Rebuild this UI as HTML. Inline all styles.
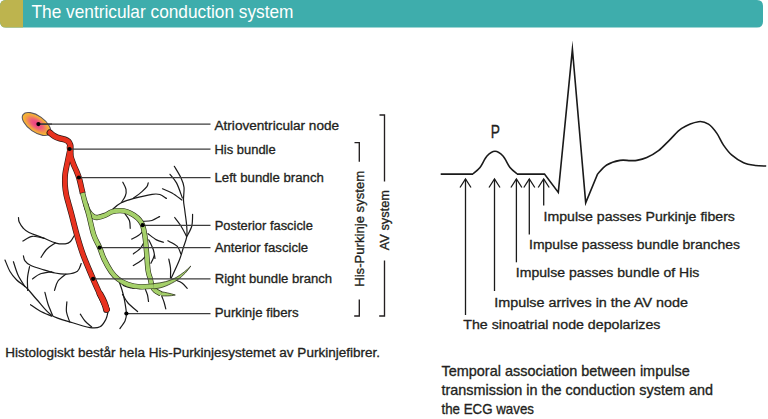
<!DOCTYPE html>
<html><head><meta charset="utf-8">
<style>
html,body{margin:0;padding:0;background:#fff;width:768px;height:419px;overflow:hidden}
svg{display:block}
text{font-family:"Liberation Sans",sans-serif;fill:#231f20}
.t{stroke:#231f20;stroke-width:0.33}
</style></head>
<body>
<svg width="768" height="419" viewBox="0 0 768 419">
<defs>
<radialGradient id="avg" cx="0.5" cy="0.5" r="0.5">
<stop offset="0" stop-color="#ec3a88"/>
<stop offset="0.4" stop-color="#ef5d7a"/>
<stop offset="0.78" stop-color="#f4a440"/>
<stop offset="1" stop-color="#f8c22c"/>
</radialGradient>
</defs>
<!-- header -->
<path d="M6,0 H757 Q763,0 763,6 V21.5 Q763,27.5 757,27.5 H6 Q0,27.5 0,21.5 V6 Q0,0 6,0 Z" fill="#3eadac"/>
<path d="M6,0 H23 V27.5 H6 Q0,27.5 0,21.5 V6 Q0,0 6,0 Z" fill="#bdb44e"/>
<text x="31.5" y="17.8" font-size="18.2" fill="#ffffff" style="fill:#fff" textLength="262" lengthAdjust="spacingAndGlyphs">The ventricular conduction system</text>

<!-- purkinje fibers -->
<g stroke="#1a1a1a" stroke-width="1.2" fill="none" stroke-linecap="round">
<path d="M74.3,235.5 C73.7,236.5 72.0,240.1 70.5,241.5 C69.0,242.9 67.6,243.5 65.2,243.8 C62.8,244.1 59.7,244.1 56.0,243.1 C52.3,242.1 47.3,239.6 42.8,237.8 C38.3,236.0 32.3,234.1 29.0,232.5 C25.7,230.9 24.7,229.7 23.1,228.0 C21.5,226.3 20.0,223.8 19.2,222.1 C18.4,220.3 18.6,218.3 18.5,217.5"/>
<path d="M22.9,241.0 C24.5,240.2 28.8,236.7 32.4,236.3 C36.0,235.9 42.7,238.1 44.8,238.5"/>
<path d="M55.3,243.0 C53.9,244.0 49.4,246.6 47.0,249.0 C44.6,251.4 42.0,255.9 41.0,257.3"/>
<path d="M81.2,263.6 C80.6,264.9 79.8,269.4 77.4,271.2 C75.0,272.9 70.6,273.8 66.9,274.1 C63.2,274.4 59.2,273.8 55.0,273.0 C50.8,272.2 46.0,270.6 41.8,269.3 C37.6,268.0 32.8,266.4 30.0,265.0 C27.2,263.6 26.1,262.4 25.0,260.9 C23.9,259.4 23.7,256.7 23.4,255.9"/>
<path d="M51.6,271.8 C49.7,272.2 43.2,272.8 40.0,274.0 C36.8,275.2 33.8,278.1 32.5,278.9"/>
<path d="M65.9,274.1 C64.6,275.2 59.9,278.3 58.0,281.0 C56.1,283.7 55.1,288.8 54.5,290.4"/>
<path d="M5.0,260.0 C5.8,261.9 8.1,268.2 10.0,271.5 C11.9,274.8 13.9,277.2 16.7,280.0 C19.5,282.8 23.4,284.8 26.7,288.0 C30.0,291.2 32.6,295.0 36.7,299.5 C40.9,304.0 45.6,311.3 51.6,315.2 C57.6,319.1 66.2,320.7 72.6,322.8 C79.0,324.9 85.4,326.9 90.0,327.6 C94.6,328.3 97.3,328.2 100.0,326.8 C102.7,325.4 104.5,321.9 105.9,319.3 C107.3,316.7 107.8,312.4 108.2,311.0"/>
<path d="M13.4,261.7 C14.2,263.9 16.1,270.9 18.0,275.0 C19.9,279.1 23.7,284.6 24.8,286.5"/>
<path d="M29.6,266.5 C29.2,268.4 27.8,274.0 27.5,278.0 C27.2,282.0 27.7,288.3 27.7,290.4"/>
<path d="M30.6,304.7 C32.2,305.8 36.5,309.1 40.0,311.0 C43.5,312.9 49.7,315.3 51.6,316.2"/>
<path d="M44.9,292.3 C45.4,294.2 46.7,300.2 48.0,304.0 C49.3,307.8 51.8,313.3 52.5,315.2"/>
<path d="M66.9,301.8 C66.8,303.5 66.0,308.6 66.5,312.0 C67.0,315.4 69.2,320.2 69.7,321.9"/>
<path d="M80.3,314.2 C81.1,315.3 83.1,318.9 85.0,321.0 C86.9,323.1 90.6,326.0 91.7,327.0"/>
<path d="M118.5,279.8 C119.1,281.5 121.0,286.7 122.0,290.0 C123.0,293.3 123.7,295.8 124.4,299.7 C125.1,303.6 126.3,310.0 126.4,313.5 C126.5,317.0 126.2,318.2 125.1,320.7 C124.0,323.2 120.8,327.3 119.9,328.6"/>
<path d="M122.5,294.4 C123.4,295.8 125.5,300.1 128.0,303.0 C130.5,305.9 136.0,310.1 137.6,311.5"/>
<path d="M119.8,281.0 C120.5,281.8 121.9,284.5 123.9,285.7 C125.9,286.9 129.9,287.6 131.7,288.0 C133.5,288.4 134.1,288.0 134.6,288.0"/>
<path d="M112.4,209.5 C113.8,208.4 117.2,204.8 120.8,203.0 C124.4,201.2 128.7,199.8 133.9,198.4 C139.1,197.0 147.8,195.0 152.1,194.3 C156.4,193.7 157.5,193.8 159.9,194.5 C162.3,195.2 165.3,197.8 166.4,198.4"/>
<path d="M121.5,202.3 C122.2,201.2 124.7,198.0 125.4,195.8 C126.2,193.6 126.4,191.6 126.0,189.3 C125.6,187.0 123.3,183.4 122.8,182.2"/>
<path d="M133.2,198.4 C134.6,197.3 139.4,193.9 141.7,191.9 C144.0,189.9 145.8,188.2 146.9,186.7 C148.0,185.2 148.0,183.5 148.2,182.8"/>
<path d="M174.3,166.3 C175.4,168.2 179.2,174.1 180.8,177.6 C182.4,181.1 183.6,183.5 184.0,187.2 C184.4,190.9 183.4,196.1 183.5,200.0 C183.6,203.9 184.3,206.2 184.8,210.5 C185.3,214.8 186.4,221.6 186.7,226.0 C187.0,230.4 187.3,233.3 186.7,236.9 C186.1,240.5 184.5,243.8 183.3,247.7 C182.1,251.5 181.4,254.9 179.4,260.0 C177.4,265.1 172.5,275.2 171.1,278.3"/>
<path d="M170.0,174.3 C171.1,175.7 174.4,179.0 176.5,182.9 C178.6,186.8 181.4,195.5 182.4,198.0"/>
<path d="M162.5,188.8 C164.1,189.5 168.8,191.1 172.0,193.0 C175.2,194.9 180.2,198.8 181.9,200.0"/>
<path d="M174.7,217.5 C175.8,218.9 179.1,222.9 181.0,226.0 C182.9,229.1 185.5,234.4 186.4,236.1"/>
<path d="M192.6,214.4 C192.5,216.3 192.7,222.4 191.8,226.0 C190.9,229.6 187.9,234.4 187.1,236.1"/>
<path d="M167.8,240.8 C169.4,241.7 174.9,244.0 177.1,246.2 C179.3,248.4 180.3,252.7 180.9,254.0"/>
<path d="M168.8,259.2 C169.1,260.7 170.2,264.9 170.5,268.0 C170.8,271.1 170.5,276.1 170.5,277.7"/>
<path d="M175.3,280.0 C176.4,280.5 180.0,281.6 182.0,283.0 C184.0,284.4 186.3,287.5 187.2,288.4"/>
<path d="M124.7,213.5 C125.5,214.7 128.5,218.0 129.4,220.5 C130.3,223.0 130.1,227.0 130.2,228.3"/>
<path d="M143.4,221.3 C144.8,221.2 149.2,221.3 151.9,220.5 C154.6,219.7 158.3,217.2 159.6,216.6"/>
<path d="M148.0,233.7 C149.4,234.7 153.9,238.5 156.5,239.9 C159.1,241.3 162.3,241.8 163.5,242.2"/>
<path d="M148.8,239.9 C149.6,241.6 152.4,246.9 153.4,250.0 C154.4,253.1 154.7,257.1 155.0,258.5"/>
<path d="M143.4,230.6 C142.6,231.4 140.6,233.9 138.7,235.3 C136.8,236.7 132.9,238.5 131.7,239.1"/>
<path d="M144.1,242.2 C143.5,243.2 142.1,246.4 140.3,248.4 C138.5,250.4 134.5,253.0 133.3,253.9"/>
<path d="M144.9,257.0 C144.2,257.6 142.9,259.4 141.0,260.8 C139.1,262.2 134.6,264.7 133.3,265.5"/>
<path d="M150.9,263.3 C151.2,262.6 152.4,260.4 153.0,259.0 C153.6,257.6 154.2,255.7 154.4,255.0"/>
<path d="M145.5,289.6 C145.8,290.5 147.0,293.0 147.5,295.0 C148.0,297.0 148.3,300.4 148.5,301.5"/>
<path d="M161.9,296.4 C162.2,297.3 163.3,299.9 164.0,302.0 C164.7,304.1 165.5,307.8 165.8,308.9"/>
</g>
<!-- AV node -->
<ellipse cx="36.5" cy="124" rx="16.4" ry="8.1" transform="rotate(35 36.5 124)" fill="url(#avg)" stroke="#5e5560" stroke-width="1.1"/>
<line x1="38.4" y1="124.1" x2="52" y2="124.1" stroke="#3c3c3c" stroke-width="1.25"/>

<!-- red bundle -->
<g fill="none" stroke-linecap="round" stroke-linejoin="round">
<path d="M70.0,150.0 C69.6,152.0 68.3,158.0 67.5,162.0 C66.7,166.0 65.6,170.2 65.2,174.0 C64.8,177.8 64.8,181.5 65.0,185.0 C65.2,188.5 65.7,192.0 66.3,195.0 C66.9,198.0 67.5,199.7 68.4,203.0 C69.3,206.3 70.3,209.7 71.7,215.0 C73.1,220.3 75.0,228.3 76.9,235.0 C78.8,241.7 80.5,247.7 83.2,255.0 C85.9,262.3 89.9,271.5 93.1,279.0 C96.3,286.5 100.3,294.9 102.6,300.0 C104.9,305.1 106.3,307.9 107.0,309.5" stroke="#2a1512" stroke-width="5.8"/>
<path d="M49.8,132.6 C50.6,133.2 53.0,135.3 54.7,136.3 C56.4,137.3 58.3,137.9 60.0,138.4 C61.7,138.9 63.4,139.1 64.8,139.6 C66.2,140.1 67.4,140.7 68.3,141.6 C69.2,142.5 69.8,143.8 70.2,145.0 C70.6,146.2 70.4,147.5 70.4,149.0 C70.4,150.5 70.3,153.2 70.3,154.0" stroke="#2a1512" stroke-width="6.4"/>
<path d="M69.5,146.0 C69.7,147.5 69.9,152.2 70.5,155.0 C71.1,157.8 72.1,160.5 73.0,163.0 C73.9,165.5 75.0,167.6 76.0,170.0 C77.0,172.4 78.1,175.0 78.9,177.5 C79.7,180.0 80.2,182.4 80.8,185.0 C81.4,187.6 82.3,191.7 82.6,193.0" stroke="#2a1512" stroke-width="5.8" stroke-linecap="butt"/>
<path d="M100,294 C103.5,300 105.5,304 106.3,309.5" stroke="#2a1512" stroke-width="6.6"/>
<path d="M70.0,150.0 C69.6,152.0 68.3,158.0 67.5,162.0 C66.7,166.0 65.6,170.2 65.2,174.0 C64.8,177.8 64.8,181.5 65.0,185.0 C65.2,188.5 65.7,192.0 66.3,195.0 C66.9,198.0 67.5,199.7 68.4,203.0 C69.3,206.3 70.3,209.7 71.7,215.0 C73.1,220.3 75.0,228.3 76.9,235.0 C78.8,241.7 80.5,247.7 83.2,255.0 C85.9,262.3 89.9,271.5 93.1,279.0 C96.3,286.5 100.3,294.9 102.6,300.0 C104.9,305.1 106.3,307.9 107.0,309.5" stroke="#e8321f" stroke-width="4.5"/>
<path d="M100,294 C103.5,300 105.5,304 106.3,309.5" stroke="#e8321f" stroke-width="5.2"/>
<path d="M49.8,132.6 C50.6,133.2 53.0,135.3 54.7,136.3 C56.4,137.3 58.3,137.9 60.0,138.4 C61.7,138.9 63.4,139.1 64.8,139.6 C66.2,140.1 67.4,140.7 68.3,141.6 C69.2,142.5 69.8,143.8 70.2,145.0 C70.6,146.2 70.4,147.5 70.4,149.0 C70.4,150.5 70.3,153.2 70.3,154.0" stroke="#e8321f" stroke-width="4.9"/>
<path d="M69.5,146.0 C69.7,147.5 69.9,152.2 70.5,155.0 C71.1,157.8 72.1,160.5 73.0,163.0 C73.9,165.5 75.0,167.6 76.0,170.0 C77.0,172.4 78.1,175.0 78.9,177.5 C79.7,180.0 80.2,182.4 80.8,185.0 C81.4,187.6 82.3,191.7 82.6,193.0" stroke="#e8321f" stroke-width="4.5" stroke-linecap="butt"/>
</g>
<line x1="79.8" y1="193.6" x2="85.4" y2="192.4" stroke="#2a1512" stroke-width="0.9"/>
<!-- green -->
<g fill="none" stroke-linejoin="round">
<path d="M161,291.8 C165,292.2 170,293.4 175.3,295 C170,296.2 165,296 161,295.8" fill="#a5d06a" stroke="#262a18" stroke-width="0.75"/>
<path d="M85.8,204.0 C86.1,204.9 86.7,207.8 87.5,209.5 C88.3,211.2 89.4,212.8 90.5,214.0 C91.6,215.2 92.8,216.2 94.0,216.8 C95.2,217.4 96.2,217.7 98.0,217.4 C99.8,217.2 102.7,216.2 105.0,215.3 C107.3,214.4 109.5,212.6 112.0,211.8 C114.5,211.0 117.5,210.6 120.0,210.6 C122.5,210.6 124.7,211.0 127.0,211.8 C129.3,212.6 131.9,213.8 134.0,215.2 C136.1,216.6 138.1,218.3 139.5,220.0 C140.9,221.7 141.7,222.5 142.6,225.2 C143.5,227.9 144.2,231.6 144.9,236.0 C145.6,240.4 146.0,245.8 146.5,251.5 C147.0,257.2 147.4,265.4 148.0,270.0 C148.6,274.6 149.6,276.1 150.3,278.8 C151.0,281.5 151.1,284.0 152.0,286.0 C152.9,288.0 154.0,289.5 155.5,290.8 C157.0,292.1 160.1,293.3 161.0,293.8" stroke="#262a18" stroke-width="5.3" stroke-linecap="butt"/>
<path d="M85.8,204.0 C86.1,204.9 86.7,207.8 87.5,209.5 C88.3,211.2 89.4,212.8 90.5,214.0 C91.6,215.2 92.8,216.2 94.0,216.8 C95.2,217.4 96.2,217.7 98.0,217.4 C99.8,217.2 102.7,216.2 105.0,215.3 C107.3,214.4 109.5,212.6 112.0,211.8 C114.5,211.0 117.5,210.6 120.0,210.6 C122.5,210.6 124.7,211.0 127.0,211.8 C129.3,212.6 131.9,213.8 134.0,215.2 C136.1,216.6 138.1,218.3 139.5,220.0 C140.9,221.7 141.7,222.5 142.6,225.2 C143.5,227.9 144.2,231.6 144.9,236.0 C145.6,240.4 146.0,245.8 146.5,251.5 C147.0,257.2 147.4,265.4 148.0,270.0 C148.6,274.6 149.6,276.1 150.3,278.8 C151.0,281.5 151.1,284.0 152.0,286.0 C152.9,288.0 154.0,289.5 155.5,290.8 C157.0,292.1 160.1,293.3 161.0,293.8" stroke="#a5d06a" stroke-width="4.1" stroke-linecap="butt"/>
<path d="M153.8,283.6 C162,283 170,281 176,277.6 C182,274 187,270 190.8,266 C188,270.5 183,276 177,280.2 C170,284.5 162,288.5 153.8,288.8" fill="#a5d06a" stroke="#262a18" stroke-width="0.75"/>
<path d="M82.6,193.0 C82.9,194.3 83.7,197.3 84.7,201.0 C85.7,204.7 87.3,209.3 88.8,215.0 C90.3,220.7 92.0,229.6 93.8,235.0 C95.6,240.4 97.9,243.5 99.6,247.5 C101.3,251.5 102.1,255.0 104.0,259.0 C105.9,263.0 108.7,268.1 111.0,271.4 C113.3,274.7 115.2,276.8 118.0,279.0 C120.8,281.2 124.3,283.2 128.0,284.5 C131.7,285.8 135.7,286.5 140.0,286.8 C144.3,287.1 151.5,286.3 153.8,286.2" stroke="#262a18" stroke-width="5.3" stroke-linecap="butt"/>
<path d="M82.6,193.0 C82.9,194.3 83.7,197.3 84.7,201.0 C85.7,204.7 87.3,209.3 88.8,215.0 C90.3,220.7 92.0,229.6 93.8,235.0 C95.6,240.4 97.9,243.5 99.6,247.5 C101.3,251.5 102.1,255.0 104.0,259.0 C105.9,263.0 108.7,268.1 111.0,271.4 C113.3,274.7 115.2,276.8 118.0,279.0 C120.8,281.2 124.3,283.2 128.0,284.5 C131.7,285.8 135.7,286.5 140.0,286.8 C144.3,287.1 151.5,286.3 153.8,286.2" stroke="#a5d06a" stroke-width="4.1" stroke-linecap="butt"/>
</g>

<!-- leader lines -->
<g stroke="#3c3c3c" stroke-width="1.25" fill="none">
<line x1="38.4" y1="124.1" x2="210.5" y2="124.1"/>
<line x1="69.5" y1="149" x2="210.5" y2="149"/>
<line x1="78.9" y1="177.7" x2="210.5" y2="177.7"/>
<line x1="142.6" y1="225.3" x2="210.5" y2="225.3"/>
<line x1="99.6" y1="247.6" x2="210.5" y2="247.6"/>
<line x1="93.1" y1="278.8" x2="210.5" y2="278.8"/>
<line x1="126.4" y1="313.5" x2="210.5" y2="313.5"/>
</g>

<!-- dots -->
<g fill="#000">
<circle cx="38.4" cy="124.1" r="2.1"/>
<circle cx="69.5" cy="149" r="2.1"/>
<circle cx="78.9" cy="177.5" r="2.1"/>
<circle cx="142.6" cy="225.2" r="2.1"/>
<circle cx="99.6" cy="247.6" r="2.1"/>
<circle cx="93.1" cy="278.8" r="2.1"/>
<circle cx="126.4" cy="313.5" r="2.1"/>
</g>

<!-- labels -->
<g font-size="13.7" class="t">
<text x="214.5" y="129.6" textLength="124.6" lengthAdjust="spacingAndGlyphs">Atrioventricular node</text>
<text x="214.5" y="154.3" textLength="61.2" lengthAdjust="spacingAndGlyphs">His bundle</text>
<text x="214.5" y="182" textLength="109.4" lengthAdjust="spacingAndGlyphs">Left bundle branch</text>
<text x="214.7" y="230" textLength="98.2" lengthAdjust="spacingAndGlyphs">Posterior fascicle</text>
<text x="214.7" y="252" textLength="93.5" lengthAdjust="spacingAndGlyphs">Anterior fascicle</text>
<text x="214.7" y="283.2" textLength="117.4" lengthAdjust="spacingAndGlyphs">Right bundle branch</text>
<text x="214.7" y="317" textLength="83.9" lengthAdjust="spacingAndGlyphs">Purkinje fibers</text>
</g>

<!-- brackets -->
<g stroke="#231f20" stroke-width="1.35" fill="none">
<polyline points="379.5,115 384.5,115 384.5,181.6"/>
<polyline points="384.5,260.5 384.5,316 379.2,316"/>
<polyline points="354.5,142.6 359.3,142.6 359.3,161.8"/>
<polyline points="359.3,299.6 359.3,316 354.2,316"/>
</g>
<text class="t" font-size="13.7" transform="translate(363.8,286.8) rotate(-90)" textLength="116" lengthAdjust="spacingAndGlyphs">His-Purkinje system</text>
<text class="t" font-size="13.7" transform="translate(389.3,250.3) rotate(-90)" textLength="60.3" lengthAdjust="spacingAndGlyphs">AV system</text>

<!-- bottom left caption -->
<text class="t" x="5.2" y="356.5" font-size="13.7" textLength="374.8" lengthAdjust="spacingAndGlyphs">Histologiskt består hela His-Purkinjesystemet av Purkinjefibrer.</text>

<!-- ECG -->
<path d="M440.7,174.1 H472.5  C473.8,173.0 477.6,170.5 480.0,167.5 C482.4,164.5 484.5,158.7 487.0,156.0 C489.5,153.3 492.3,151.2 495.0,151.2 C497.7,151.2 500.5,153.3 503.0,156.0 C505.5,158.7 507.6,164.5 510.0,167.5 C512.4,170.5 516.2,173.0 517.5,174.1 H544.5 L558.3,192.4 L572.4,49.3 L585.7,202.8 L597.5,174.2 C599.0,172.7 603.0,167.3 606.7,165.0 C610.5,162.7 616.1,161.1 620.0,160.4 C623.9,159.7 627.2,160.6 630.0,160.6 C632.8,160.6 634.0,160.9 636.8,160.4 C639.6,159.9 643.2,159.1 646.8,157.5 C650.4,155.9 654.6,153.6 658.5,150.6 C662.4,147.6 666.1,143.3 670.0,139.6 C673.9,135.9 677.0,131.4 681.7,128.4 C686.5,125.4 694.0,122.4 698.5,121.7 C703.0,121.0 705.4,122.2 708.5,124.2 C711.6,126.2 714.4,129.9 716.9,133.4 C719.4,136.9 721.0,141.5 723.5,145.1 C726.0,148.7 728.5,152.3 731.9,155.2 C735.2,158.1 739.7,161.0 743.6,162.7 C747.5,164.4 751.5,164.9 755.3,165.5 C759.1,166.1 764.4,165.9 766.2,166.0" fill="none" stroke="#1a1a1a" stroke-width="1.6" stroke-linejoin="miter" stroke-miterlimit="20"/>
<text class="t" x="490.8" y="138.2" font-size="17.5" textLength="9.2" lengthAdjust="spacingAndGlyphs">P</text>
<g stroke="#1a1a1a" stroke-width="1.3" fill="none">
<line x1="465.5" y1="179" x2="465.5" y2="315"/>
<line x1="494.5" y1="179" x2="494.5" y2="291"/>
<line x1="516.4" y1="179" x2="516.4" y2="262.3"/>
<line x1="529.3" y1="179" x2="529.3" y2="234.4"/>
<line x1="543.7" y1="179" x2="543.7" y2="205.4"/>
<polyline points="460.0,187.5 465.5,179 471.0,187.5"/>
<polyline points="489.0,187.5 494.5,179 500.0,187.5"/>
<polyline points="510.9,187.5 516.4,179 521.9,187.5"/>
<polyline points="523.8,187.5 529.3,179 534.8,187.5"/>
<polyline points="538.2,187.5 543.7,179 549.2,187.5"/>
</g>
<g font-size="13.7" class="t">
<text x="543.5" y="220.8" textLength="191.4" lengthAdjust="spacingAndGlyphs">Impulse passes Purkinje fibers</text>
<text x="529.1" y="249.4" textLength="210.8" lengthAdjust="spacingAndGlyphs">Impulse passess bundle branches</text>
<text x="515.8" y="277.3" textLength="183.5" lengthAdjust="spacingAndGlyphs">Impulse passes bundle of His</text>
<text x="494.2" y="306.5" textLength="193.9" lengthAdjust="spacingAndGlyphs">Impulse arrives in the AV node</text>
<text x="463.3" y="329.4" textLength="197.1" lengthAdjust="spacingAndGlyphs">The sinoatrial node depolarizes</text>
</g>
<g font-size="14.4" class="t">
<text x="441.5" y="376" textLength="248.2" lengthAdjust="spacingAndGlyphs">Temporal association between impulse</text>
<text x="441.5" y="394.8" textLength="271.5" lengthAdjust="spacingAndGlyphs">transmission in the conduction system and</text>
<text x="441.5" y="413.7" textLength="92.5" lengthAdjust="spacingAndGlyphs">the ECG waves</text>
</g>
</svg>
</body></html>
